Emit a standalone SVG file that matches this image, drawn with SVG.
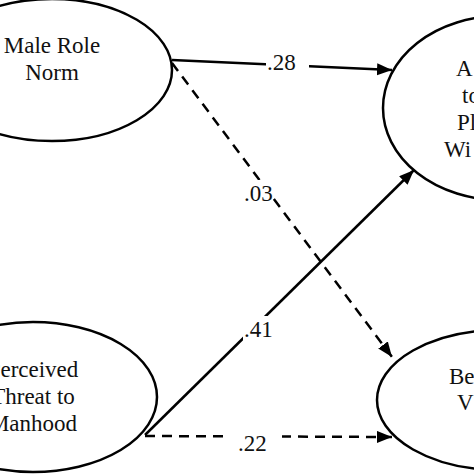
<svg xmlns="http://www.w3.org/2000/svg" width="474" height="474" viewBox="0 0 474 474">
<style>
.node ellipse{fill:#fff;stroke:#000;stroke-width:2.5}
text{font-family:"Liberation Serif","Times New Roman",serif;font-size:23px;fill:#111}
.c{text-anchor:middle}
.edge{stroke:#000;stroke-width:2.5;fill:none}
.dash{stroke-dasharray:10 7}
.lbl{fill:#fff}
</style>
<defs>
<marker id="arr" markerUnits="userSpaceOnUse" markerWidth="16" markerHeight="13" refX="15" refY="6" orient="auto">
<path d="M0,0 L15,6 L0,12 z" fill="#000"/>
</marker>
</defs>
<rect width="474" height="474" fill="#fff"/>
<g id="n-male-role-norm" class="node">
<ellipse cx="52" cy="70" rx="120" ry="71"/>
<text class="c" x="52" y="53">Male Role</text>
<text class="c" x="52" y="80">Norm</text>
</g>
<g id="n-perceived-threat" class="node">
<ellipse cx="33" cy="397" rx="124" ry="75"/>
<text class="c" x="33" y="377">Perceived</text>
<text class="c" x="33" y="404">Threat to</text>
<text class="c" x="33" y="431">Manhood</text>
</g>
<g id="n-attitude" class="node">
<ellipse cx="500" cy="108" rx="117" ry="92"/>
<text x="456" y="76">A</text>
<text x="462" y="103">to</text>
<text x="457" y="130">Pl</text>
<text x="444" y="157">Wi</text>
</g>
<g id="n-behavior" class="node">
<ellipse cx="500" cy="400" rx="123" ry="70"/>
<text x="449" y="384">Be</text>
<text x="457" y="410">V</text>
</g>
<g id="connectors">
<line class="edge" x1="172" y1="60" x2="392" y2="70" marker-end="url(#arr)"/>
<line class="edge dash" x1="172" y1="63" x2="392" y2="357" marker-end="url(#arr)"/>
<line class="edge" x1="145" y1="435" x2="414" y2="170" marker-end="url(#arr)"/>
<line class="edge dash" x1="145" y1="436" x2="392" y2="437" marker-end="url(#arr)"/>
<rect class="lbl" x="266" y="50" width="43" height="24"/>
<text x="267" y="70">.28</text>
<rect class="lbl" x="243" y="180" width="30" height="25"/>
<text x="244" y="201">.03</text>
<rect class="lbl" x="243" y="316" width="28" height="25"/>
<text x="244" y="337">.41</text>
<rect class="lbl" x="226" y="428" width="56" height="26"/>
<text x="238" y="451">.22</text>
</g>
</svg>
